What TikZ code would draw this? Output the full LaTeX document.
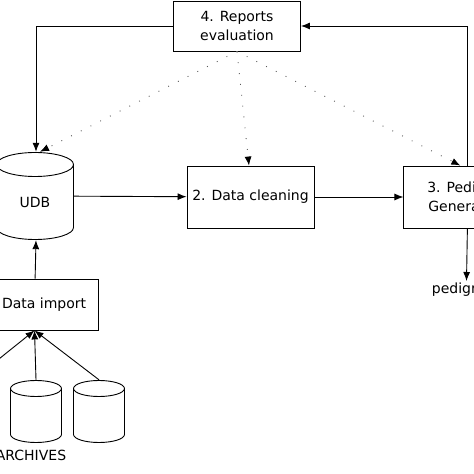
\documentclass[tikz,border=0pt]{standalone}
\usepackage{fontspec}
\setmainfont{DejaVu Sans}
\usetikzlibrary{arrows.meta, positioning, calc}

\begin{document}
\begin{tikzpicture}[
    x=1pt, y=1pt,
    stage/.style={rectangle, draw, line width=0.9pt, minimum width=127pt, align=center, inner sep=0pt, font=\fontsize{14}{19}\selectfont},
    drum/.style={rectangle, inner sep=0pt, font=\fontsize{14}{19}\selectfont, path picture={
        \draw[line width=0.9pt] let \p1=(path picture bounding box.north west), \p2=(path picture bounding box.south east),
            \n1={(\x2-\x1)/2-0.5pt}, \n2={(\x1+\x2)/2} in
            (\n2,\y1-#1-0.5pt) ellipse [x radius=\n1, y radius=#1]
            (\x1+0.5pt,\y1-#1-0.5pt) -- (\x1+0.5pt,\y2+#1+0.5pt)
            arc [start angle=180, end angle=360, x radius=\n1, y radius=#1] -- (\x2-0.5pt,\y1-#1-0.5pt);
    }},
    flow/.style={->, line width=0.9pt},
    hint/.style={-{Latex[length=9pt,width=7pt,color=black]}, line width=0.9pt, gray!70!black, dash pattern=on 0.9pt off 10pt},
    >={Latex[length=9pt,width=7pt]}
]
\clip (0,0) rectangle (474,474);
\useasboundingbox (0,0) rectangle (474,474);

\node[stage, minimum height=50pt] (rep) at (237,448) {4. Reports\\evaluation};
\node[drum=12pt, minimum width=78pt, minimum height=88pt, text height=24pt, text depth=0pt] (udb) at (35,278) {UDB};
\node[stage, minimum height=62pt] (clean) at (250.5,277) {2. Data cleaning};
\node[stage, minimum height=62pt, right=89pt of clean] (ped) {3. Pedigree\\Generation};
\node[stage, minimum height=51pt] (imp) at (34.5,169.5) {1. Data import};
\node[font=\fontsize{14}{19}\selectfont, anchor=north, inner sep=2pt] (out) at (466.5,193) {pedigrees};

% archives
\node[drum=8pt, minimum width=52pt, minimum height=63pt] (a0) at (-27,62.5) {};
\node[drum=8pt, minimum width=52pt, minimum height=63pt] (a1) at (36,62.5) {};
\node[drum=8pt, minimum width=52pt, minimum height=63pt] (a2) at (99,62.5) {};
\node[font=\fontsize{14}{19}\selectfont] (arch) at (31,19) {ARCHIVES};

\draw[flow] (udb) -- (clean);
\draw[flow] (clean) -- (ped);
\draw[flow] (ped.north) |- (rep.east);
\draw[flow] (rep.west) -| ([xshift=1pt]udb.north);
\draw[flow] (ped.south) -- (out.north);
\draw[flow] (imp) -- ([xshift=1pt]udb.south);
\draw[flow] (a0.north) -- (imp.south);
\draw[flow] (a1.north) -- (imp.south);
\draw[flow] (a2.north) -- (imp.south);

\draw[hint] (rep.south) -- ([xshift=5pt]udb.north);
\draw[hint] (rep.south) -- ([xshift=-1.5pt]clean.north);
\draw[hint] (rep.south) -- ([xshift=-7pt]ped.north);
\end{tikzpicture}
\end{document}
